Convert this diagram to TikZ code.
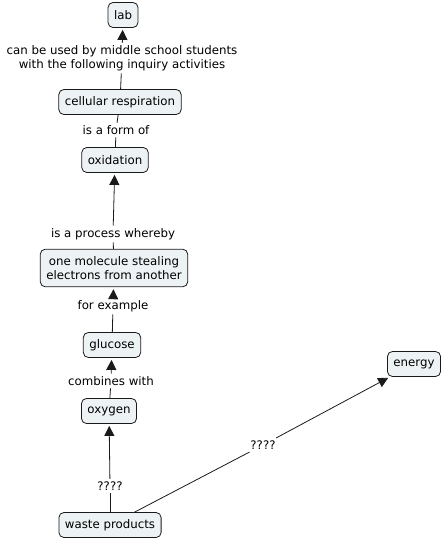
\documentclass[tikz,border=0pt]{standalone}
\usepackage{fontspec}
\setmainfont{DejaVu Sans}
\definecolor{cmapFill}{HTML}{EDF2F4}
\definecolor{cmapLine}{HTML}{1A1A1A}
\usetikzlibrary{arrows.meta, positioning}

\begin{document}
\begin{tikzpicture}[x=1pt, y=-1pt,
  concept/.style={rounded corners=5pt, draw=cmapLine, fill=cmapFill, line width=0.8pt,
    minimum height=25pt, inner xsep=6pt, inner ysep=6pt, align=center,
    font=\fontsize{11.8}{14.5}\selectfont},
  linkword/.style={inner sep=2.5pt, align=center, font=\fontsize{11.8}{14}\selectfont},
  conn/.style={line width=0.8pt, cmapLine},
  arr/.style={conn, -{Triangle[length=10pt,width=10pt]}, shorten >=2pt}]

  \useasboundingbox (0,0) rectangle (447,541);

  % Concepts
  \node[concept] (lab)      at (123,15)  {lab};
  \node[concept] (cellresp) at (120,102) {cellular respiration};
  \node[concept] (oxid)     at (115,160) {oxidation};
  \node[concept, inner ysep=7pt] (steal) at (114,268) {one molecule stealing\\electrons from another};
  \node[concept] (glucose)  at (112,345) {glucose};
  \node[concept] (oxygen)   at (109,411) {oxygen};
  \node[concept] (waste)    at (110,525) {waste products};
  \node[concept] (energy)   at (414,364) {energy};

  % Linking phrases
  \node[linkword] (usedby)   at (122,58)  {can be used by middle school students\\with the following inquiry activities};
  \node[linkword] (formof)   at (116,130) {is a form of};
  \node[linkword] (whereby)  at (113,234) {is a process whereby};
  \node[linkword] (forex)    at (113,306) {for example};
  \node[linkword] (combines) at (111,381) {combines with};
  \node[linkword] (qoxy)     at (110,486) {????};
  \node[linkword] (qenergy)  at (263,445) {????};

  % Connections
  \draw[conn] (cellresp) -- (usedby);  \draw[arr] (usedby)   -- (lab);
  \draw[conn] (cellresp) -- (formof);  \draw[conn] (formof)   -- (oxid);
  \draw[conn] (steal)    -- (whereby); \draw[arr] (whereby)  -- (oxid);
  \draw[conn] (glucose)  -- (forex);   \draw[arr] (forex)    -- (steal);
  \draw[conn] (oxygen)   -- (combines);\draw[arr] (combines) -- (glucose);
  \draw[conn] (waste)    -- (qoxy);    \draw[arr] (qoxy)     -- (oxygen);
  \draw[conn] (waste)    -- (qenergy); \draw[arr] (qenergy)  -- (energy);
\end{tikzpicture}
\end{document}
